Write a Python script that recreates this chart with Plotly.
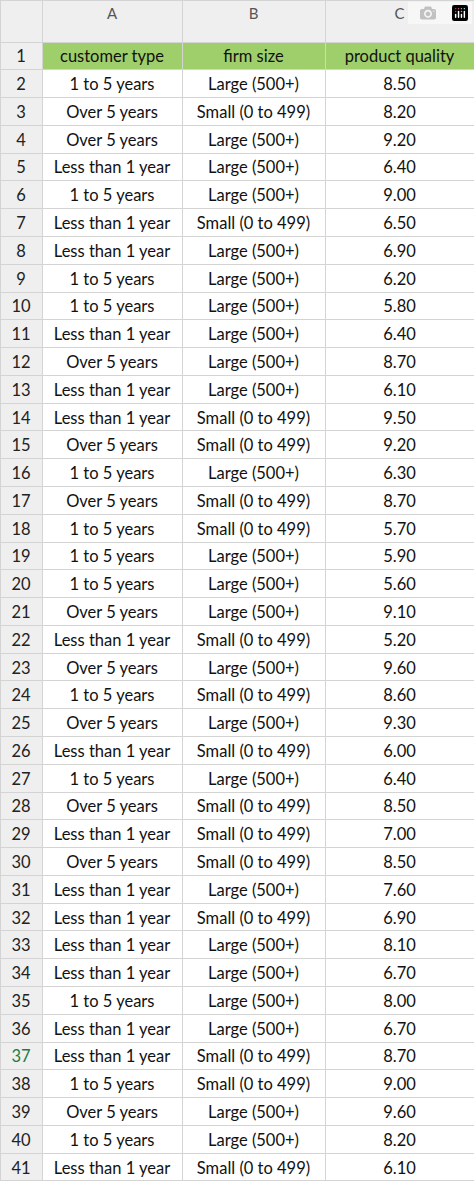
import plotly.graph_objects as go

col_letters = ["A", "B", "C"]
headers = ["customer type", "firm size", "product quality"]
customer_type = [
    "1 to 5 years", "Over 5 years", "Over 5 years", "Less than 1 year", "1 to 5 years",
    "Less than 1 year", "Less than 1 year", "1 to 5 years", "1 to 5 years", "Less than 1 year",
    "Over 5 years", "Less than 1 year", "Less than 1 year", "Over 5 years", "1 to 5 years",
    "Over 5 years", "1 to 5 years", "1 to 5 years", "1 to 5 years", "Over 5 years",
    "Less than 1 year", "Over 5 years", "1 to 5 years", "Over 5 years", "Less than 1 year",
    "1 to 5 years", "Over 5 years", "Less than 1 year", "Over 5 years", "Less than 1 year",
    "Less than 1 year", "Less than 1 year", "Less than 1 year", "1 to 5 years", "Less than 1 year",
    "Less than 1 year", "1 to 5 years", "Over 5 years", "1 to 5 years", "Less than 1 year",
]
L, S = "Large (500+)", "Small (0 to 499)"
firm_size = [
    L, S, L, L, L, S, L, L, L, L,
    L, L, S, S, L, S, S, L, L, L,
    S, L, S, L, S, L, S, S, S, L,
    S, L, L, L, L, S, S, L, L, S,
]
product_quality = [
    8.5, 8.2, 9.2, 6.4, 9.0, 6.5, 6.9, 6.2, 5.8, 6.4,
    8.7, 6.1, 9.5, 9.2, 6.3, 8.7, 5.7, 5.9, 5.6, 9.1,
    5.2, 9.6, 8.6, 9.3, 6.0, 6.4, 8.5, 7.0, 8.5, 7.6,
    6.9, 8.1, 6.7, 8.0, 6.7, 8.7, 9.0, 9.6, 8.2, 6.1,
]

nb = lambda s: s.replace(" ", "\u00a0")  # keep cell text on one line

n = len(customer_type) + 1
row_nums = [str(i) for i in range(1, n + 1)]
col_a = [nb(headers[0])] + [nb(s) for s in customer_type]
col_b = [nb(headers[1])] + [nb(s) for s in firm_size]
col_c = [nb(headers[2])] + [f"{v:.2f}" for v in product_quality]

green = "#9fcf6a"
data_fill = [green] + ["white"] * (n - 1)
num_colors = ["#222"] * n
num_colors[36] = "#1e7b45"

fig = go.Figure(go.Table(
    columnwidth=[42, 140, 143, 149],
    header=dict(
        values=[""] + col_letters,
        fill_color="#efefef",
        line_color="#d4d4d4",
        font=dict(family="Lato", size=15, color="#555"),
        align="center",
        height=42,
    ),
    cells=dict(
        values=[row_nums, col_a, col_b, col_c],
        fill_color=["#efefef", data_fill, data_fill, data_fill],
        line_color="#d4d4d4",
        font=dict(family="Lato", size=16.5, color=[num_colors, "#111", "#111", "#111"]),
        align="center",
        height=27.78,
    ),
))
fig.update_layout(width=474, height=1181, margin=dict(l=0, r=0, t=0, b=0),
                  paper_bgcolor="white")
fig.write_html("out.html", post_script="document.body.style.margin='0';")
